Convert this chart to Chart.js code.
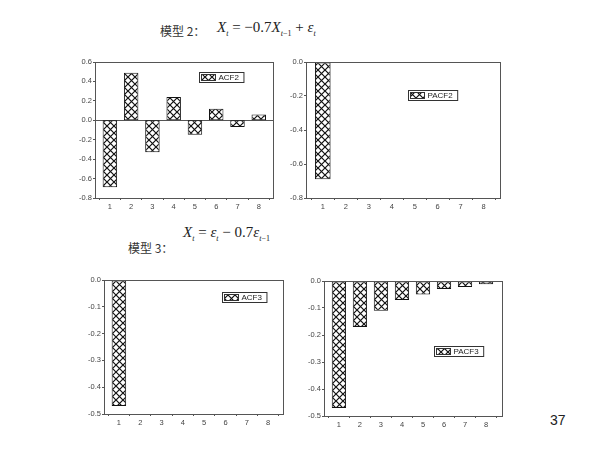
<!DOCTYPE html>
<html>
<head>
<meta charset="utf-8">
<script src="https://cdn.jsdelivr.net/npm/chart.js@4.4.1/dist/chart.umd.min.js"></script>
<style>
  body { margin: 0; width: 600px; height: 450px; background: #fff; position: relative; overflow: hidden; }
  .plot { position: absolute; }
  .cap { position: absolute; color: #222; white-space: nowrap; }
  .cjk { font-family: "Noto Sans CJK SC"; font-size: 12px; color: #333; }
  .eq { font-family: "Liberation Serif"; font-style: italic; font-size: 15px; }
  .eq sub { font-size: 8px; }
  .eq .n { font-style: normal; }
  .page { font-family: Arial, "Liberation Sans"; font-size: 14px; }
</style>
</head>
<body>
<div class="cap cjk" style="left:160px;top:22px">模型 2：</div>
<div class="cap eq" style="left:217px;top:19px">X<sub>t</sub> <span class="n">= −0.7</span>X<sub>t<span class="n">−1</span></sub> <span class="n">+</span> ε<sub>t</sub></div>
<div class="cap eq" style="left:183px;top:224px">X<sub>t</sub> <span class="n">=</span> ε<sub>t</sub> <span class="n">− 0.7</span>ε<sub>t<span class="n">−1</span></sub></div>
<div class="cap cjk" style="left:128px;top:239px">模型 3：</div>
<div class="cap page" style="left:550px;top:412px">37</div>

<div class="plot" style="left:65px;top:56px;width:212px;height:158px"><canvas id="acf2"></canvas></div>
<div class="plot" style="left:276px;top:56px;width:228px;height:158px"><canvas id="pacf2"></canvas></div>
<div class="plot" style="left:74px;top:274px;width:213px;height:156px"><canvas id="acf3"></canvas></div>
<div class="plot" style="left:294px;top:275px;width:212px;height:157px"><canvas id="pacf3"></canvas></div>

<script>
  // lags and correlation values
  var lags = ['1', '2', '3', '4', '5', '6', '7', '8'];
  var acf2 = [-0.69, 0.49, -0.33, 0.24, -0.15, 0.12, -0.07, 0.06];
  var pacf2 = [-0.69, 0, 0, 0, 0, 0, 0, 0];
  var acf3 = [-0.47, 0, 0, 0, 0, 0, 0, 0];
  var pacf3 = [-0.47, -0.17, -0.11, -0.07, -0.05, -0.03, -0.022, -0.012];

  // y axis ranges: [min, max, step]
  var range2 = [-0.8, 0.6, 0.2];
  var rangePacf2 = [-0.8, 0, 0.2];
  var range3 = [-0.5, 0, 0.1];

  function isZero(v) { return Math.abs(v) < 1e-9; }

  function hatch() {
    var c = document.createElement('canvas');
    c.width = 7; c.height = 7;
    var g = c.getContext('2d');
    g.fillStyle = '#fff';
    g.fillRect(0, 0, 7, 7);
    g.strokeStyle = '#111';
    g.lineWidth = 1.2;
    g.beginPath();
    g.moveTo(-1, -1); g.lineTo(8, 8);
    g.moveTo(8, -1); g.lineTo(-1, 8);
    g.stroke();
    return g.createPattern(c, 'repeat');
  }
  var pattern = hatch();

  // frame round the plot and the small legend box inside it
  var frame = {
    id: 'frame',
    afterDatasetsDraw: function (chart, args, opts) {
      var a = chart.chartArea, ctx = chart.ctx;
      ctx.save();
      ctx.strokeStyle = '#555';
      ctx.lineWidth = 1;
      ctx.strokeRect(Math.round(a.left) + 0.5, Math.round(a.top) + 0.5,
        Math.round(a.right - a.left), Math.round(a.bottom - a.top));

      var label = chart.data.datasets[0].label;
      var x = Math.round(a.left + opts.x) + 0.5, y = Math.round(a.top + opts.y) + 0.5;
      ctx.font = '8px Arial';
      var w = 21 + ctx.measureText(label).width + 3;
      ctx.fillStyle = '#fff';
      ctx.fillRect(x, y, w, 10);
      ctx.strokeStyle = '#333';
      ctx.strokeRect(x, y, w, 10);
      ctx.fillStyle = pattern;
      ctx.fillRect(x + 2, y + 2, 14, 6);
      ctx.strokeRect(x + 2, y + 2, 14, 6);
      ctx.fillStyle = '#222';
      ctx.textBaseline = 'middle';
      ctx.fillText(label, x + 19, y + 5.5);
      ctx.restore();
    }
  };

  function makeChart(id, label, values, range, opts) {
    var points = values.map(function (v, i) { return { x: Number(lags[i]), y: v }; });
    return new Chart(document.getElementById(id), {
      type: 'bar',
      data: {
        datasets: [{
          label: label,
          data: points,
          backgroundColor: pattern,
          borderColor: '#111',
          borderWidth: function (c) { return c.raw && c.raw.y !== 0 ? 1 : 0; },
          borderSkipped: false,
          barPercentage: 0.68,
          categoryPercentage: 1
        }]
      },
      plugins: [frame],
      options: {
        animation: false,
        responsive: true,
        maintainAspectRatio: false,
        layout: { padding: { top: 6, right: 4, left: 0, bottom: 0 } },
        plugins: {
          legend: { display: false },
          tooltip: { enabled: false },
          frame: { x: opts.legX, y: opts.legY }
        },
        scales: {
          x: {
            type: 'linear',
            offset: false,
            min: opts.xMin,
            max: opts.xMax,
            afterBuildTicks: function (s) {
              s.ticks = s.ticks.filter(function (t) { return Number.isInteger(t.value); });
            },
            afterFit: function (s) { s.height = 16; },
            grid: { drawOnChartArea: false, tickLength: 2, color: '#555' },
            border: { color: '#555' },
            ticks: {
              stepSize: 1, includeBounds: false, padding: 2, color: '#444',
              font: { family: 'Arial', size: 7.5 },
              maxRotation: 0, autoSkip: false,
              callback: function (v) { return lags[v - 1]; }
            }
          },
          y: {
            min: range[0],
            max: range[1],
            afterFit: function (s) { s.width = 30; },
            grid: {
              drawOnChartArea: true,
              tickLength: 2,
              tickColor: '#555',
              color: function (c) { return c.tick && isZero(c.tick.value) ? '#555' : 'rgba(0,0,0,0)'; }
            },
            border: { color: '#555' },
            ticks: {
              stepSize: range[2], padding: 1, color: '#444', font: { family: 'Arial', size: 7.5 },
              callback: function (v) { return isZero(v) ? '0.0' : v.toFixed(1); }
            }
          }
        }
      }
    });
  }

  makeChart('acf2', 'ACF2', acf2, range2, { xMin: 0.3, xMax: 8.67, legX: 104, legY: 10 });
  makeChart('pacf2', 'PACF2', pacf2, rangePacf2, { xMin: 0.27, xMax: 8.71, legX: 102, legY: 28 });
  makeChart('acf3', 'ACF3', acf3, range3, { xMin: 0.3, xMax: 8.7, legX: 118, legY: 12 });
  makeChart('pacf3', 'PACF3', pacf3, range3, { xMin: 0.29, xMax: 8.76, legX: 110, legY: 65 });
</script>
</body>
</html>
